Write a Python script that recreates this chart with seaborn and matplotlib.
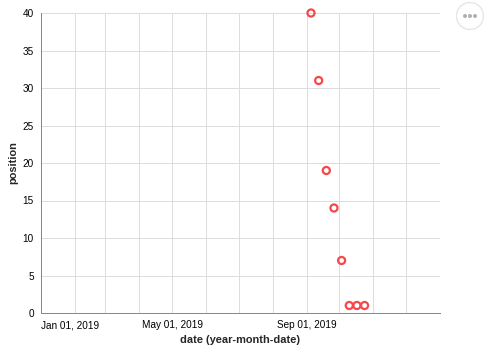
import pandas as pd
import matplotlib.pyplot as plt
import seaborn as sns
from matplotlib.patches import Ellipse

# Datos
fechas = ["2019-09-05", "2019-09-12", "2019-09-19", "2019-09-26",
          "2019-10-03", "2019-10-10", "2019-10-17", "2019-10-24"]
posiciones = [40, 31, 19, 14, 7, 1, 1, 1]

datos = pd.DataFrame({"date": pd.to_datetime(fechas), "position": posiciones})

sns.set_style("white")
plt.rcParams['font.family'] = ['Liberation Sans', 'DejaVu Sans']

PX = 0.72  # 1 px en puntos a dpi 100

fig = plt.figure(figsize=(4.93, 3.61), dpi=100)
ax = fig.add_axes([41 / 493, 48 / 361, 399 / 493, 300 / 361])

sns.scatterplot(data=datos, x="date", y="position", ax=ax,
                marker="o", s=26, facecolors="none", edgecolor="#f5484b",
                linewidth=1.6, zorder=3, clip_on=False)

ax.set_xlim(pd.Timestamp("2019-01-01"), pd.Timestamp("2020-01-01"))
ax.set_ylim(0, 40)
ax.set_yticks(range(0, 41, 5))

meses = pd.date_range("2019-01-01", "2019-12-01", freq="MS")
ax.set_xticks(meses)
etiquetas = [d.strftime("%b %d, %Y") if d.month in (1, 5, 9) else "" for d in meses]
ax.set_xticklabels(etiquetas)

ax.grid(True, color="#dddddd", linewidth=1 * PX)
ax.set_axisbelow(True)
for lado in ["top", "right"]:
    ax.spines[lado].set_visible(False)
for lado in ["left", "bottom"]:
    ax.spines[lado].set_color("#888888")
    ax.spines[lado].set_linewidth(1 * PX)

ax.tick_params(axis="both", length=5 * PX, width=1 * PX, color="#888888",
               labelsize=10 * PX, labelcolor="#000000", pad=2 * PX, direction="out")
for lbl in ax.get_xticklabels():
    if lbl.get_text().startswith("Jan"):
        lbl.set_horizontalalignment("left")

ax.set_xlabel("date (year-month-date)", fontsize=11 * PX, fontweight="bold", labelpad=5 * PX)
ax.set_ylabel("position", fontsize=11 * PX, fontweight="bold", labelpad=4 * PX)

# Botón de acciones de la esquina
cx, cy = 470 / 493, 1 - 16 / 361
fig.patches.append(Ellipse((cx, cy), 27 / 493, 27 / 361, transform=fig.transFigure,
                           facecolor="white", edgecolor="#e6e6e6", linewidth=1))
for dx in (-5, 0, 5):
    fig.patches.append(Ellipse((cx + dx / 493, cy), 4 / 493, 4 / 361,
                               transform=fig.transFigure, facecolor="#b0b0b0",
                               edgecolor="none"))

fig.savefig("out.png", dpi=100)
plt.close()
